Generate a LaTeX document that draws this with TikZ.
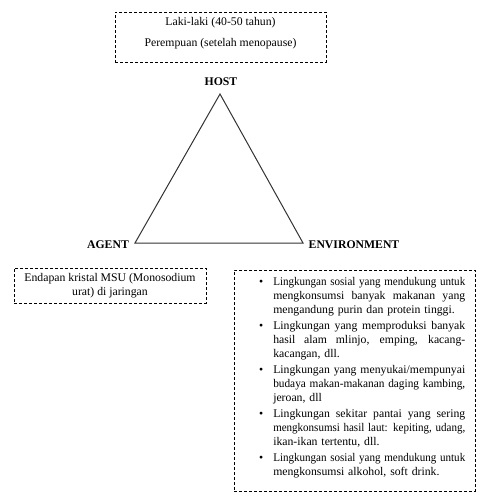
\documentclass[tikz,border=0pt]{standalone}
\usepackage{fontspec}
\setmainfont{Liberation Serif}
\usepackage{graphicx}
\newcommand\txtfont{\fontsize{8.8}{10.5}\selectfont}
\newcommand\lineJ[1]{\sbox0{#1}\ifdim\wd0>\hsize\resizebox{\hsize}{\height}{#1}\else\hbox to\hsize{\spaceskip=.25em plus 1fil\relax#1}\fi}
\newcommand\jl[1]{\par\noindent\lineJ{#1}}
\newcommand\fbl[1]{\par\noindent\llap{\textbullet\hspace{7.5pt}}\lineJ{#1}}
\newcommand\bl[1]{\par\vspace{1.5pt}\noindent\llap{\textbullet\hspace{7.5pt}}\lineJ{#1}}
\newcommand\el[1]{\par\noindent#1}
\begin{document}
\begin{tikzpicture}[x=0.75pt,y=-0.75pt,
  dashbox/.style={draw, dash pattern=on 2.25pt off 1.5pt, line width=0.75pt, inner sep=0pt},
  txt/.style={font=\txtfont, inner sep=0pt},
  lbl/.style={font=\txtfont\bfseries, inner sep=0pt},
  tri/.style={draw=black!80, line width=0.75pt}]
\useasboundingbox (0,0) rectangle (480,496);
% host box
\node[dashbox, minimum width=158.25pt, minimum height=37.5pt] (hostbox) at (220.5,37) {};
\node[txt, align=center] (hosttxt) at (220.5,33.5) {Laki-laki (40-50 tahun)\\[5.25pt]Perempuan (setelah menopause)};
% triangle
\coordinate (apex) at (220,94);
\coordinate (bl) at (135,243);
\coordinate (br) at (303,243);
\draw[tri] (apex) -- (bl) -- (br) -- cycle;
\node[lbl] (host) at (221,82) {HOST};
\node[lbl] (agent) at (108,245) {AGENT};
\node[lbl] (env) at (354,245) {ENVIRONMENT};
% agent box
\node[dashbox, minimum width=144pt, minimum height=26.25pt] (agentbox) at (110,285.5) {};
\node[txt, align=center] (agenttxt) at (110,286) {Endapan kristal MSU (Monosodium\\urat) di jaringan};
% environment box
\node[dashbox, minimum width=180.75pt, minimum height=165.75pt] (envbox) at (354.5,380.5) {};
\node[txt, anchor=north west, text width=144pt] (envtxt) at (273,271) {%
\fbl{Lingkungan sosial yang mendukung untuk}%
\jl{mengkonsumsi banyak makanan yang}%
\el{mengandung purin dan protein tinggi.}%
\bl{Lingkungan yang memproduksi banyak}%
\jl{hasil alam mlinjo, emping, kacang-}%
\el{kacangan, dll.}%
\bl{Lingkungan yang menyukai/mempunyai}%
\jl{budaya makan-makanan daging kambing,}%
\el{jeroan, dll}%
\bl{Lingkungan sekitar pantai yang sering}%
\jl{mengkonsumsi hasil laut: kepiting, udang,}%
\el{ikan-ikan tertentu, dll.}%
\bl{Lingkungan sosial yang mendukung untuk}%
\el{mengkonsumsi alkohol, soft drink.}\par};
\end{tikzpicture}
\end{document}
